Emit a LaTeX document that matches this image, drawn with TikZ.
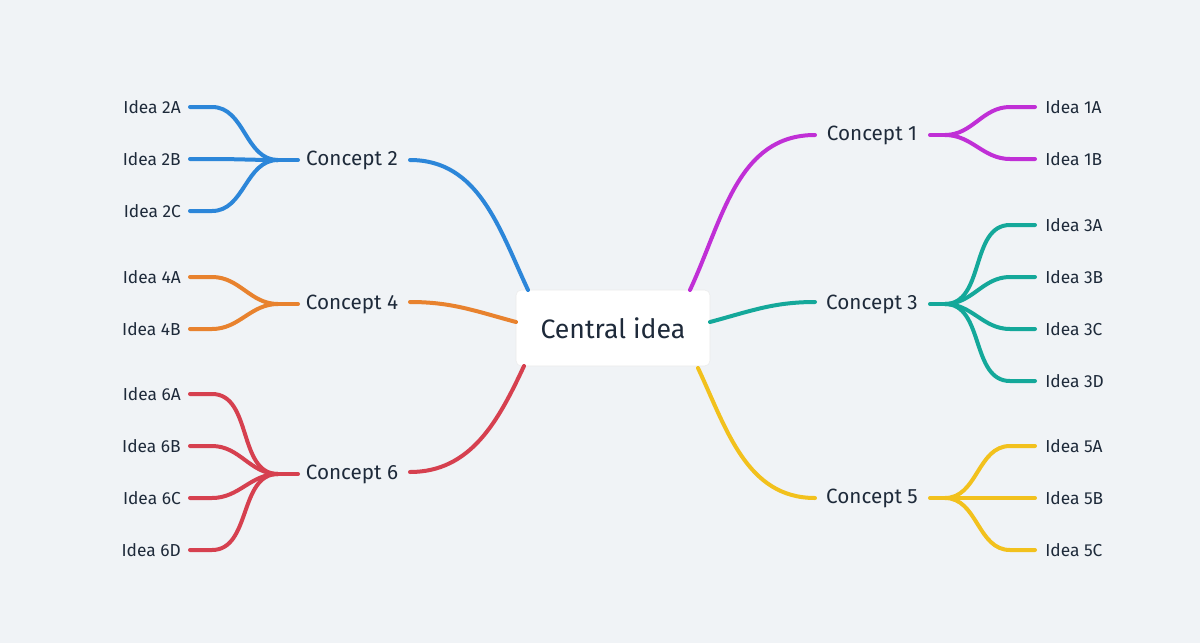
\documentclass[tikz,border=0pt]{standalone}
\usepackage{fontspec}
\setmainfont{Fira Sans}
\begin{document}
\begin{tikzpicture}[x=0.75pt,y=-0.75pt,
  br/.style={line width=3pt,line cap=round},
  idea/.style={font=\fontsize{13}{15}\selectfont,text=txt,inner sep=0pt},
  concept/.style={font=\fontsize{15.5}{18}\selectfont,text=txt,inner sep=0pt}]
\definecolor{bg}{HTML}{F0F3F6}
\definecolor{txt}{HTML}{1E2A3A}
\definecolor{cA}{HTML}{C02FD6}
\definecolor{cB}{HTML}{2C86D9}
\definecolor{cC}{HTML}{14A89A}
\definecolor{cD}{HTML}{E8822E}
\definecolor{cE}{HTML}{F2C11D}
\definecolor{cF}{HTML}{D6404F}
\fill[bg] (0,0) rectangle (1200,643);
\useasboundingbox (0,0) rectangle (1200,643);
\node[draw=black!8,fill=white,rounded corners=4pt,minimum width=145.5pt,minimum height=57pt,font=\fontsize{20}{24}\selectfont,text=txt] (c) at (613,328) {Central idea};
% concepts
\node[concept] (k1) at (872,135) {Concept 1};
\node[concept] (k3) at (872,304) {Concept 3};
\node[concept] (k5) at (872,498) {Concept 5};
\node[concept] (k2) at (352,160) {Concept 2};
\node[concept] (k4) at (352,304) {Concept 4};
\node[concept] (k6) at (352,474) {Concept 6};
% central links
\coordinate (e1) at (815,135); \coordinate (e3) at (815,302); \coordinate (e5) at (815,498);
\coordinate (e2) at (410,160); \coordinate (e4) at (410,302); \coordinate (e6) at (410,472);
\draw[br,cA] (690,290) to[out=65,in=180] (e1);
\draw[br,cC] (710,322) to[out=15,in=180] (e3);
\draw[br,cE] (698,368) to[out=-65,in=180] (e5);
\draw[br,cB] (528,290) to[out=115,in=0] (e2);
\draw[br,cD] (516,322) to[out=165,in=0] (e4);
\draw[br,cF] (524,366) to[out=-115,in=0] (e6);
% right ideas
\foreach \col/\k/\y/\lst in {cA/1/135/{107/1A,159/1B}, cC/3/304/{225/3A,277/3B,329/3C,381/3D}, cE/5/498/{446/5A,498/5B,550/5C}}{
  \coordinate (s\k) at (945,\y);
  \draw[br,\col] (930,\y) -- (s\k);
  \foreach \yi/\t in \lst {
    \node[idea,anchor=west] (i\t) at (1045,\yi) {Idea \t};
    \coordinate (a\t) at (1035,\yi);
    \draw[br,\col] (s\k) to[out=0,in=180] (1010,\yi) -- (a\t);
  }
}
% left ideas
\foreach \col/\k/\y/\lst in {cB/2/160/{107/2A,159/2B,211/2C}, cD/4/304/{277/4A,329/4B}, cF/6/474/{394/6A,446/6B,498/6C,550/6D}}{
  \coordinate (s\k) at (278,\y);
  \draw[br,\col] (298,\y) -- (s\k);
  \foreach \yi/\t in \lst {
    \node[idea,anchor=east] (i\t) at (181,\yi) {Idea \t};
    \coordinate (a\t) at (190,\yi);
    \draw[br,\col] (s\k) to[out=180,in=0] (212,\yi) -- (a\t);
  }
}
\end{tikzpicture}
\end{document}
